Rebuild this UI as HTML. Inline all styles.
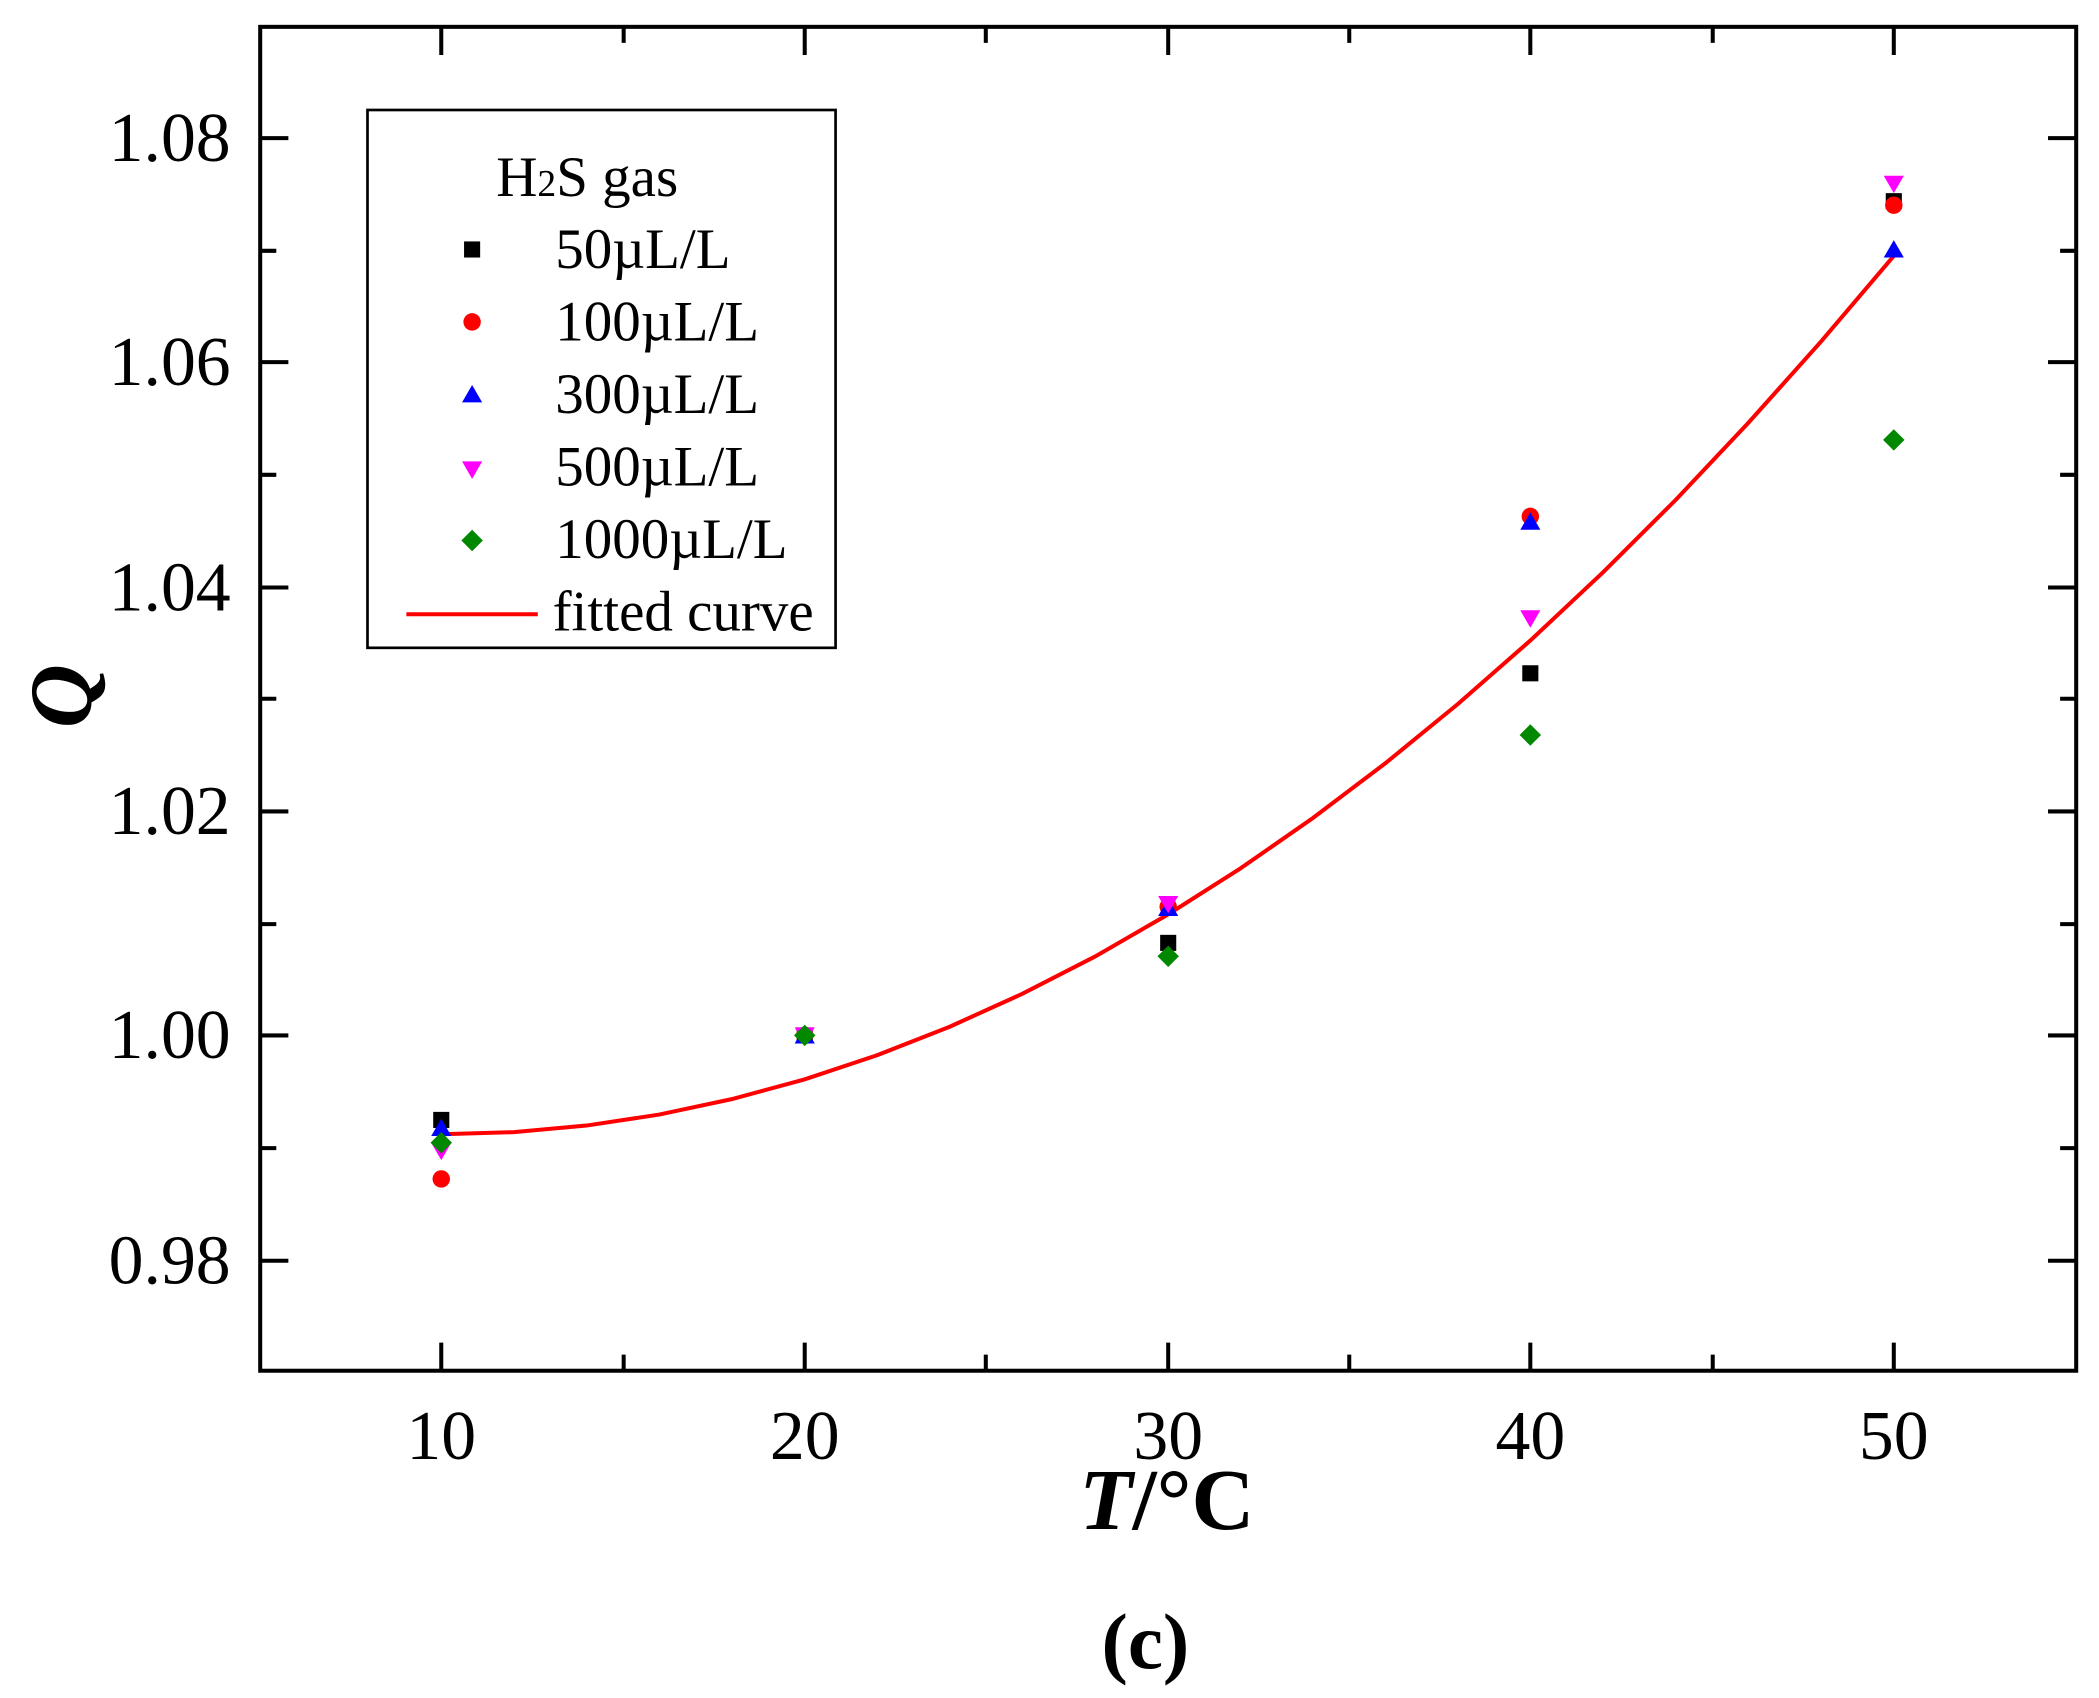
<!DOCTYPE html>
<html><head><meta charset="utf-8"><style>html,body{margin:0;padding:0;background:#fff}svg{display:block}</style></head>
<body>
<svg width="2099" height="1698" viewBox="0 0 1565 1266" xmlns="http://www.w3.org/2000/svg" font-family="'Liberation Serif',serif">
<rect width="1565" height="1266" fill="#fff"/>
<g stroke="#000" stroke-width="3" fill="none">
<rect x="194" y="20" width="1354" height="1002"/>
<path d="M329 1022v-21M600 1022v-21M871 1022v-21M1141 1022v-21M1412 1022v-21
M465 1022v-12M735 1022v-12M1006 1022v-12M1277 1022v-12
M329 20v21M600 20v21M871 20v21M1141 20v21M1412 20v21
M465 20v12M735 20v12M1006 20v12M1277 20v12
M194 103h21M194 270h21M194 438h21M194 605h21M194 772h21M194 940h21
M194 187h12M194 354h12M194 521h12M194 689h12M194 856h12
M1548 103h-21M1548 270h-21M1548 438h-21M1548 605h-21M1548 772h-21M1548 940h-21
M1548 187h-12M1548 354h-12M1548 521h-12M1548 689h-12M1548 856h-12"/>
</g>
<g font-size="52" fill="#000" text-anchor="end">
<text x="172" y="120">1.08</text><text x="172" y="287">1.06</text><text x="172" y="455">1.04</text>
<text x="172" y="622">1.02</text><text x="172" y="789">1.00</text><text x="172" y="957">0.98</text>
</g>
<g font-size="52" fill="#000" text-anchor="middle">
<text x="329" y="1088">10</text><text x="600" y="1088">20</text><text x="871" y="1088">30</text><text x="1141" y="1088">40</text><text x="1412" y="1088">50</text>
</g>
<text x="870" y="1140" font-size="65" font-weight="bold" text-anchor="middle"><tspan font-style="italic">T</tspan>/°C</text>
<text x="854" y="1244" font-size="59" text-anchor="middle" font-weight="bold">(c)</text>
<text transform="translate(68,519) rotate(-90)" font-size="66" font-weight="bold" font-style="italic" text-anchor="middle">Q</text>
<polyline fill="none" stroke="#f00" stroke-width="3" points="329,845.7 383.2,844.1 437.3,839.2 491.5,831 545.6,819.5 599.8,804.8 653.9,786.8 708.1,765.5 762.2,741.0 816.4,713.2 870.5,682.0 924.7,647.6 978.8,610 1033,569 1087.1,524.8 1141.3,477.3 1195.4,426.5 1249.6,372.5 1303.7,315.1 1357.9,254.5 1412,190.8"/>
<defs>
<rect id="sq" x="-6" y="-6" width="12" height="12" fill="#000"/>
<circle id="ci" r="6.5" fill="#f00"/>
<path id="tu" d="M0 -7L7.5 6H-7.5Z" fill="#00f"/>
<path id="td" d="M0 7L7.5 -6H-7.5Z" fill="#f0f"/>
<path id="di" d="M0 -8L8 0L0 8L-8 0Z" fill="#080"/>
</defs>
<use href="#sq" x="329" y="835"/><use href="#sq" x="600" y="772"/><use href="#sq" x="871" y="703"/><use href="#sq" x="1141" y="502"/><use href="#sq" x="1412" y="150"/>
<use href="#ci" x="329" y="879"/><use href="#ci" x="600" y="772"/><use href="#ci" x="871" y="676"/><use href="#ci" x="1141" y="385"/><use href="#ci" x="1412" y="153"/>
<use href="#tu" x="329" y="841"/><use href="#tu" x="600" y="772"/><use href="#tu" x="871" y="677"/><use href="#tu" x="1141" y="389"/><use href="#tu" x="1412" y="186"/>
<use href="#td" x="329" y="858"/><use href="#td" x="600" y="772"/><use href="#td" x="871" y="674"/><use href="#td" x="1141" y="461"/><use href="#td" x="1412" y="137"/>
<use href="#di" x="329" y="852"/><use href="#di" x="600" y="772"/><use href="#di" x="871" y="713"/><use href="#di" x="1141" y="548"/><use href="#di" x="1412" y="328"/>
<rect x="274" y="82" width="349" height="401" fill="#fff" stroke="#000" stroke-width="2"/>
<g font-size="42.5" fill="#000">
<text x="370" y="146">H<tspan font-size="28">2</tspan>S gas</text>
<text x="414" y="200">50µL/L</text>
<text x="414" y="254">100µL/L</text>
<text x="414" y="308">300µL/L</text>
<text x="414" y="362">500µL/L</text>
<text x="414" y="416">1000µL/L</text>
<text x="412" y="470">fitted curve</text>
</g>
<use href="#sq" x="352" y="186"/><use href="#ci" x="352" y="240"/><use href="#tu" x="352" y="294"/><use href="#td" x="352" y="350"/><use href="#di" x="352" y="403"/>
<path d="M303 458H401" stroke="#f00" stroke-width="3"/>
</svg>
</body></html>
